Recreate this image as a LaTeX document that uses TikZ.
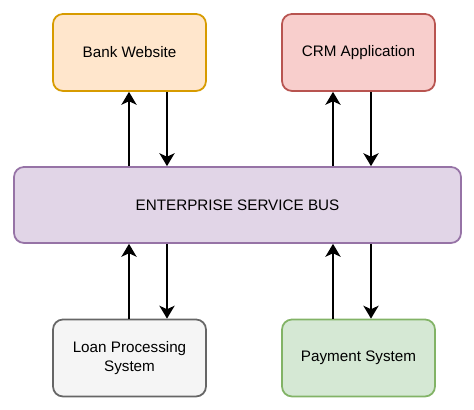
\documentclass[tikz,border=0pt]{standalone}
\usepackage{fontspec}
\setmainfont{Liberation Sans}
\usetikzlibrary{arrows.meta}
\definecolor{bankfill}{HTML}{FFE6CC}
\definecolor{bankdraw}{HTML}{D79B00}
\definecolor{crmfill}{HTML}{F8CECC}
\definecolor{crmdraw}{HTML}{B85450}
\definecolor{busfill}{HTML}{E1D5E7}
\definecolor{busdraw}{HTML}{9673A6}
\definecolor{loanfill}{HTML}{F5F5F5}
\definecolor{loandraw}{HTML}{666666}
\definecolor{payfill}{HTML}{D5E8D4}
\definecolor{paydraw}{HTML}{82B366}
\begin{document}
\begin{tikzpicture}[
		system/.style={rounded corners=0.3cm, line width=1.5pt, minimum width=4.59cm, minimum height=2.31cm, align=center, font=\fontsize{13}{16}\selectfont},
		flow/.style={line width=1.7pt, -{Stealth[length=11pt, width=13pt, inset=3pt]}}
	]
		\useasboundingbox (0, 0) rectangle (14.22, 12.3);

		\node[system, fill=bankfill, draw=bankdraw] (bank) at (3.885, 10.725) {Bank Website};
		\node[system, fill=crmfill, draw=crmdraw] (crm) at (10.755, 10.725) {CRM Application};
		\node[system, fill=busfill, draw=busdraw, minimum width=13.41cm, minimum height=2.28cm] (bus) at (7.125, 6.15) {ENTERPRISE SERVICE BUS};
		\node[system, fill=loanfill, draw=loandraw] (loan) at (3.885, 1.56) {Loan Processing\\System};
		\node[system, fill=payfill, draw=paydraw] (pay) at (10.755, 1.56) {Payment System};

		\draw[flow] ([xshift=-0.015cm]bank.south |- bus.north) -- ([xshift=-0.015cm]bank.south);
		\draw[flow] ([xshift=1.125cm]bank.south) -- ([xshift=1.125cm]bank.south |- bus.north);
		\draw[flow] ([xshift=-0.765cm]crm.south |- bus.north) -- ([xshift=-0.765cm]crm.south);
		\draw[flow] ([xshift=0.375cm]crm.south) -- ([xshift=0.375cm]crm.south |- bus.north);

		\draw[flow] ([xshift=-0.015cm]loan.north) -- ([xshift=-0.015cm]loan.north |- bus.south);
		\draw[flow] ([xshift=1.125cm]loan.north |- bus.south) -- ([xshift=1.125cm]loan.north);
		\draw[flow] ([xshift=-0.765cm]pay.north) -- ([xshift=-0.765cm]pay.north |- bus.south);
		\draw[flow] ([xshift=0.375cm]pay.north |- bus.south) -- ([xshift=0.375cm]pay.north);
	\end{tikzpicture}
\end{document}
